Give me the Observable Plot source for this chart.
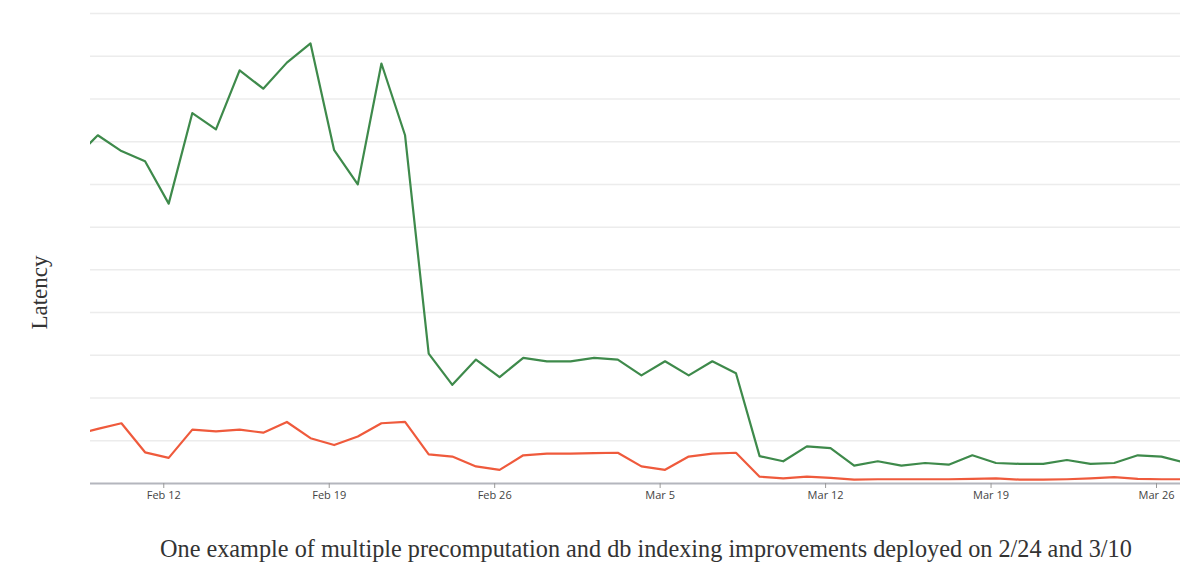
<!DOCTYPE html>
<html>
<head>
<meta charset="utf-8">
<script src="https://cdn.jsdelivr.net/npm/d3@7"></script>
<script src="https://cdn.jsdelivr.net/npm/@observablehq/plot@0.6"></script>
<style>
  html, body { margin: 0; padding: 0; background: #fff; }
  #chart { width: 1200px; }
  #caption {
    font-family: "Liberation Serif", "DejaVu Serif", serif;
    font-size: 24.25px;
    color: #333;
    position: absolute;
    top: 535px;
    left: 160px;
    white-space: nowrap;
  }
</style>
</head>
<body>
<div id="chart"></div>
<div id="caption">One example of multiple precomputation and db indexing improvements deployed on 2/24 and 3/10</div>
<script>
// Daily dates (Feb 8 – Mar 27, 2018)
const days = [
  "2018-02-08","2018-02-09","2018-02-10","2018-02-11","2018-02-12","2018-02-13","2018-02-14",
  "2018-02-15","2018-02-16","2018-02-17","2018-02-18","2018-02-19","2018-02-20","2018-02-21",
  "2018-02-22","2018-02-23","2018-02-24","2018-02-25","2018-02-26","2018-02-27","2018-02-28",
  "2018-03-01","2018-03-02","2018-03-03","2018-03-04","2018-03-05","2018-03-06","2018-03-07",
  "2018-03-08","2018-03-09","2018-03-10","2018-03-11","2018-03-12","2018-03-13","2018-03-14",
  "2018-03-15","2018-03-16","2018-03-17","2018-03-18","2018-03-19","2018-03-20","2018-03-21",
  "2018-03-22","2018-03-23","2018-03-24","2018-03-25","2018-03-26","2018-03-27"
];
// Series A (green), arbitrary latency units
const seriesA = [
  7.59, 8.15, 7.78, 7.54, 6.55, 8.67, 8.29,
  9.67, 9.24, 9.85, 10.30, 7.80, 7.00, 9.83,
  8.15, 3.04, 2.31, 2.90, 2.49, 2.94, 2.86,
  2.86, 2.94, 2.90, 2.53, 2.86, 2.53, 2.86,
  2.58, 0.64, 0.52, 0.87, 0.83, 0.42, 0.52,
  0.42, 0.48, 0.44, 0.66, 0.48, 0.46, 0.46,
  0.55, 0.46, 0.48, 0.66, 0.63, 0.49
];
// Series B (red)
const seriesB = [
  1.14, 1.28, 1.41, 0.73, 0.60, 1.26, 1.22,
  1.26, 1.19, 1.44, 1.06, 0.90, 1.10, 1.41,
  1.44, 0.68, 0.63, 0.40, 0.32, 0.66, 0.70,
  0.70, 0.71, 0.72, 0.40, 0.32, 0.63, 0.70,
  0.72, 0.16, 0.12, 0.16, 0.13, 0.09, 0.10,
  0.10, 0.10, 0.10, 0.11, 0.12, 0.09, 0.09,
  0.10, 0.12, 0.15, 0.11, 0.10, 0.10
];
const xTickDays = ["2018-02-12","2018-02-19","2018-02-26","2018-03-05","2018-03-12","2018-03-19","2018-03-26"];
const xDomain = ["2018-02-08T21:36Z", "2018-03-27T00:22Z"];
const yTicks = [0,1,2,3,4,5,6,7,8,9,10,11];

const sampleTime = d => new Date(d + "T05:00Z");
const rows = [];
days.forEach((d, i) => {
  rows.push({date: sampleTime(d), value: seriesA[i], series: "A"});
  rows.push({date: sampleTime(d), value: seriesB[i], series: "B"});
});
const fmt = d3.utcFormat("%b %-d");

const plot = Plot.plot({
  width: 1200,
  height: 510,
  marginLeft: 90,
  marginRight: 20,
  marginTop: 13,
  marginBottom: 27,
  style: {fontFamily: "'Open Sans', 'DejaVu Sans', sans-serif", background: "#fff"},
  x: {type: "utc", domain: xDomain.map(s => new Date(s))},
  y: {domain: [0, 11], axis: null},
  color: {domain: ["A", "B"], range: ["#3e8a4b", "#ef5a3c"]},
  marks: [
    Plot.ruleY(yTicks.filter(t => t > 0), {stroke: "#ececec", strokeWidth: 1.5}),
    Plot.line(rows, {x: "date", y: "value", z: "series", stroke: "series", strokeWidth: 2.2, clip: true, curve: "linear"}),
    Plot.ruleY([0], {stroke: "#b4b6bd", strokeWidth: 2}),
    Plot.axisX({
      ticks: xTickDays.map(s => new Date(s + "T00:00Z")),
      tickFormat: fmt,
      tickSize: 5,
      tickPadding: 3,
      stroke: "#999",
      fontSize: 11,
      color: "#444",
      label: null
    }),
    Plot.text(["Latency"], {
      frameAnchor: "left",
      textAnchor: "middle",
      dx: -51,
      dy: 44,
      rotate: -90,
      fontFamily: "'Liberation Serif', 'DejaVu Serif', serif",
      fontSize: 23,
      fill: "#333"
    })
  ]
});
document.getElementById("chart").appendChild(plot);
</script>
</body>
</html>
